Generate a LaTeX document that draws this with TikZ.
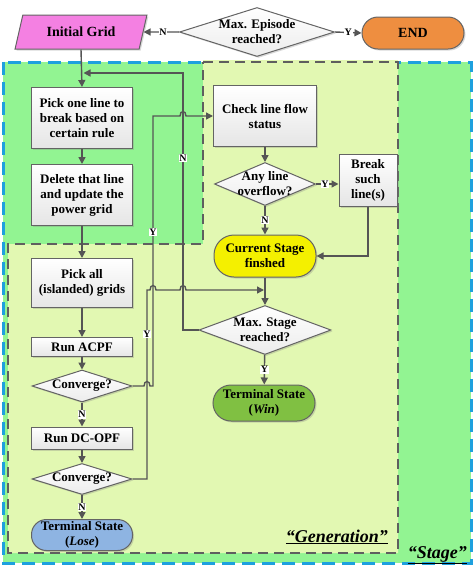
\documentclass[tikz,border=0pt]{standalone}
\usepackage{fontspec}
\setmainfont{Liberation Serif}
\usetikzlibrary{shapes.geometric,arrows.meta,shadows}
\definecolor{stagegreen}{RGB}{146,244,146}
\definecolor{genfill}{RGB}{226,248,178}
\definecolor{stageblue}{RGB}{30,160,222}
\definecolor{gendash}{RGB}{95,95,95}
\definecolor{edgegray}{RGB}{85,85,85}
\definecolor{boxline}{RGB}{100,100,100}
\definecolor{pinkfill}{RGB}{244,128,226}
\definecolor{orangefill}{RGB}{238,142,64}
\definecolor{yellowfill}{RGB}{244,240,0}
\definecolor{winfill}{RGB}{128,192,66}
\definecolor{losefill}{RGB}{142,180,226}
\begin{document}
\begin{tikzpicture}[x=1pt,y=-1pt,
  shad/.style={drop shadow={opacity=0.3,shadow xshift=1.5pt,shadow yshift=-1.5pt}},
  txt/.style={font=\fontsize{13}{15}\selectfont\bfseries, align=center},
  box/.style={rectangle, draw=boxline, line width=1pt, top color=white, bottom color=gray!20, inner sep=0pt, shad, txt},
  dia/.style={diamond, draw=boxline, line width=1pt, top color=white, bottom color=gray!15, inner sep=0pt, shad},
  dtext/.style={txt, inner sep=0pt},
  term/.style={rectangle, draw=boxline, line width=1pt, inner sep=0pt, shad, txt},
  para/.style={trapezium, trapezium left angle=65, trapezium right angle=115, trapezium stretches=true, draw=boxline, line width=1pt, fill=pinkfill, inner sep=0pt, shad, font=\fontsize{14}{16}\selectfont\bfseries},
  ln/.style={draw=edgegray, line width=1.4pt},
  arr/.style={ln, -{Triangle[length=7pt,width=7pt]}},
  lab/.style={fill=white, inner sep=0.8pt, font=\fontsize{10}{11}\selectfont\bfseries},
  biglab/.style={font=\fontsize{18}{20}\selectfont\bfseries\itshape, inner sep=0pt}
]
\useasboundingbox (0,0) rectangle (474,566);
% regions
\fill[stagegreen] (3,62) rectangle (471,563);
\fill[genfill] (203,62) -- (398,62) -- (398,553) -- (8,553) -- (8,244) -- (203,244) -- cycle;
\draw[stageblue, line width=3pt, dash pattern=on 13pt off 7pt] (3,62) rectangle (471,563);
\draw[genfill, line width=3.4pt] (203,62) -- (398,62);
\draw[gendash, line width=1.7pt, dash pattern=on 10pt off 6pt] (203,62) -- (398,62) -- (398,553) -- (8,553) -- (8,244) -- (203,244) -- cycle;

% top row
\node[para, minimum width=132pt, minimum height=34pt] (ig) at (81,32) {Initial Grid};
\node[dia, minimum width=155pt, minimum height=49pt] (me) at (257,32) {};
\node[dtext] (met) at (me) {Max. Episode\\reached?};
\node[term, fill=orangefill, rounded corners=16pt, minimum width=102pt, minimum height=32pt, font=\fontsize{14}{16}\selectfont\bfseries] (en) at (413,33) {END};

% left column
\node[box, minimum width=101pt, minimum height=61pt] (pk) at (82,118) {Pick one line to\\break based on\\certain rule};
\node[box, minimum width=101pt, minimum height=61pt] (dl) at (82,195) {Delete that line\\and update the\\power grid};
\node[box, minimum width=101pt, minimum height=49pt] (pa) at (82,283) {Pick all\\(islanded) grids};
\node[box, minimum width=101pt, minimum height=19pt] (ac) at (82,347) {Run ACPF};
\node[dia, minimum width=100pt, minimum height=32pt] (c1) at (82,386) {};
\node[dtext] (c1t) at (c1) {Converge?};
\node[box, minimum width=101pt, minimum height=22pt] (dc) at (82,438) {Run DC-OPF};
\node[dia, minimum width=100pt, minimum height=31pt] (c2) at (82,479) {};
\node[dtext] (c2t) at (c2) {Converge?};
\node[term, fill=losefill, rounded corners=15pt, minimum width=101pt, minimum height=31pt] (ls) at (82,535) {Terminal State\\(\textit{Lose})};

% right column
\node[box, minimum width=103pt, minimum height=61pt] (ck) at (265,116) {Check line flow\\status};
\node[dia, minimum width=101pt, minimum height=43pt] (ov) at (265,184) {};
\node[dtext] (ovt) at (ov) {Any line\\overflow?};
\node[box, minimum width=58pt, minimum height=52pt] (br) at (368,180) {Break\\such\\line(s)};
\node[term, fill=yellowfill, rounded corners=20pt, minimum width=102pt, minimum height=42pt] (cs) at (265,256) {Current Stage\\finshed};
\node[dia, minimum width=132pt, minimum height=49pt] (ms) at (265,330) {};
\node[dtext] (mst) at (ms) {Max. Stage\\reached?};
\node[term, fill=winfill, rounded corners=18pt, minimum width=102pt, minimum height=36pt] (wn) at (264,403) {Terminal State\\(\textit{Win})};

% coordinates
\coordinate (j0) at (83.5,73);
\coordinate (j1) at (264,290);

% connectors
\draw[arr] (me.west) -- node[lab, pos=0.45] (lN0) {N} (ig.east);
\draw[arr] (me.east) -- node[lab, pos=0.5] (lY0) {Y} (en.west);
\draw[arr] (ig.south) -- (pk.north);
\draw[arr] (pk) -- (dl);
\draw[arr] (dl) -- (pa);
\draw[arr] (pa) -- (ac);
\draw[arr] (ac) -- (c1);
\draw[arr] (c1) -- node[lab] (lN1) {N} (dc);
\draw[arr] (dc) -- (c2);
\draw[arr] (c2) -- node[lab] (lN2) {N} (ls);
\draw[arr] (ck) -- (ov);
\draw[arr] (ov) -- node[lab] (lN3) {N} (cs);
\draw[arr] (ov.east) -- node[lab, pos=0.4] (lY3) {Y} (br.west |- ov.east);
\draw[arr] (br.south) |- (cs.east);
\draw[arr] (cs) -- (ms);
\draw[arr] (ms) -- node[lab] (lY4) {Y} (wn);
% N loop back to start
\draw[arr] (ms.west) -| (183,73) -- (j0);
\node[lab] (lN5) at (183,158) {N};
% Converge 1 Y -> check line flow
\draw[arr] (c1.east) -- (144,386) .. controls (144,380) and (150,380) .. (150,386) -- (153,386) -- (153,116) -- (180,116) .. controls (180,110) and (186,110) .. (186,116) -- (ck.west);
\node[lab] (lY1) at (153,232) {Y};
% Converge 2 Y -> max stage
\draw[arr] (c2.east) -- (147,479) -- (147,290) -- (150,290) .. controls (150,284) and (156,284) .. (156,290) -- (180,290) .. controls (180,284) and (186,284) .. (186,290) -- (j1);
\node[lab] (lY2) at (147,334) {Y};

% region labels
\node[biglab, anchor=base east] (gl) at (388,542) {\underline{“Generation”}};
\node[biglab, anchor=base east] (sl) at (467,558) {\underline{“Stage”}};
\end{tikzpicture}
\end{document}
